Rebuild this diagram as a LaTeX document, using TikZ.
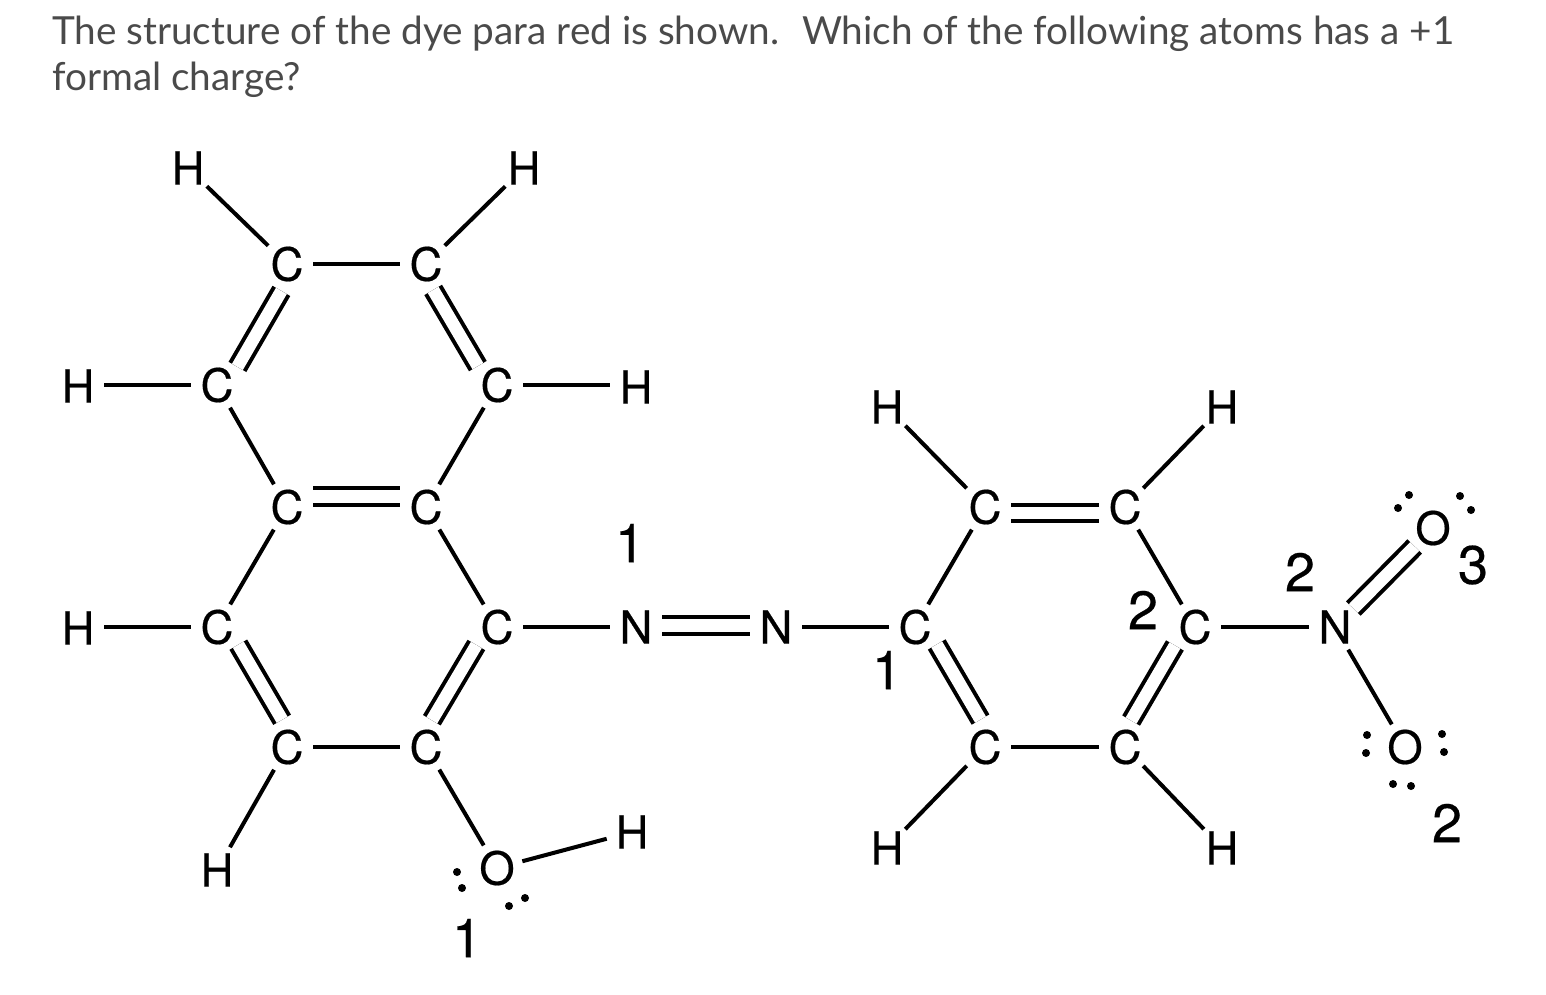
\documentclass[tikz,border=0pt]{standalone}
\usepackage{fontspec}
\setmainfont{TeX Gyre Heros}
\newfontfamily\titlefont{Lato}
\newfontfamily\chemfont[FakeBold=0.4]{TeX Gyre Heros}
\usetikzlibrary{calc}
\definecolor{titlegray}{HTML}{4A4A4A}
\tikzset{
  atom/.style={circle,inner sep=0pt,minimum size=52pt,font=\chemfont\fontsize{45.5}{45.5}\selectfont,text=black},
  num/.style={inner sep=0pt,font=\chemfont\fontsize{54}{54}\selectfont,text=black},
  title/.style={anchor=base west,inner sep=0pt,font=\titlefont\fontsize{38.7}{38.7}\selectfont,text=titlegray},
  bond/.style={draw=black,line width=4pt},
  dbl/.style={draw=black,line width=4pt,double=white,double distance=12.5pt},
  lonepair/.style={fill=black}
}
\newcommand{\dbond}[4]{\draw[dbl] ($(#1.center)!26pt!(#2.center)+(#3,#4)$) -- ($(#2.center)!26pt!(#1.center)+(#3,#4)$);}
\begin{document}
\begin{tikzpicture}[x=1pt,y=-1pt]
\useasboundingbox[fill=white] (0,0) rectangle (1546,994);
\node[title] (t1) at (52,44) {The structure of the dye para red is shown.\hspace{0.25em} Which of the following atoms has a +1};
\node[title] (t2) at (52,90) {formal charge?};
% left rings
\node[atom] (h1) at (188,168) {H};
\node[atom] (h2) at (524,168) {H};
\node[atom] (c1) at (287,264) {C};
\node[atom] (c2) at (426,264) {C};
\node[atom] (h3) at (78,386) {H};
\node[atom] (c3) at (217,385) {C};
\node[atom] (c4) at (497,385) {C};
\node[atom] (h4) at (636,387) {H};
\node[atom] (c5) at (287,507) {C};
\node[atom] (c6) at (426,507) {C};
\node[atom] (h5) at (78,628) {H};
\node[atom] (c7) at (217,627) {C};
\node[atom] (c8) at (497,627) {C};
\node[atom] (n1) at (636,627) {N};
\node[atom] (n2) at (776,627) {N};
\node[atom] (c9) at (287,747) {C};
\node[atom] (c10) at (426,747) {C};
\node[atom] (h6) at (217,870) {H};
\node[atom] (o1) at (497,868) {O};
\node[atom] (h7) at (632,832) {H};
% right ring
\node[atom] (h8) at (887,407) {H};
\node[atom] (h9) at (1222,407) {H};
\node[atom] (c12) at (985,507) {C};
\node[atom] (c13) at (1125,507) {C};
\node[atom] (c11) at (915,627) {C};
\node[atom] (c14) at (1195,627) {C};
\node[atom] (n3) at (1335,627) {N};
\node[atom] (c15) at (985,747) {C};
\node[atom] (c16) at (1125,747) {C};
\node[atom] (h10) at (887,848) {H};
\node[atom] (h11) at (1222,848) {H};
\node[atom] (o2) at (1433,528) {O};
\node[atom] (o3) at (1405,747) {O};
% numbers
\node[num] (l1) at (630,543) {1};
\node[num] (l2) at (887,670) {1};
\node[num] (l3) at (1143,610) {2};
\node[num] (l4) at (1300,572) {2};
\node[num] (l5) at (1473,565) {3};
\node[num] (l6) at (1447,823) {2};
\node[num] (l7) at (467,938) {1};
% single bonds
\foreach \a/\b in {h1/c1,h2/c2,c1/c2,c3/c5,c4/c6,c5/c7,c6/c8,c8/n1,c9/c10,c9/h6,c10/o1,o1/h7,
  n2/c11,h8/c12,h9/c13,c11/c12,c13/c14,c14/n3,c15/c16,c15/h10,c16/h11,n3/o3}
  \draw[bond] (\a) -- (\b);
% horizontal bonds to H atoms set slightly off the bond line
\draw[bond] (h3.east |- c3) -- (c3.west);
\draw[bond] (c4.east) -- (h4.west |- c4);
\draw[bond] (h5.east |- c7) -- (c7.west);
% double bonds
\dbond{c1}{c3}{7.4}{4.4}
\dbond{c2}{c4}{-6}{3.5}
\dbond{c5}{c6}{0}{-10.5}
\dbond{c7}{c9}{8.2}{-4.8}
\dbond{c8}{c10}{-7.4}{-4.4}
\dbond{n1}{n2}{0}{-1.5}
\dbond{c12}{c13}{0}{6}
\dbond{c11}{c15}{8.6}{-5}
\dbond{c14}{c16}{-7}{-4}
\dbond{n3}{o2}{0}{0}
% lone pairs
\foreach \x/\y in {457/872,462/888,509/906,525/898,
  1398/508,1409/495,1460/496,1471/510,
  1367/735,1366/753,1442/734,1444/752,1393/784,1411/786}
  \fill[lonepair] (\x,\y) circle (4pt);
\end{tikzpicture}
\end{document}
